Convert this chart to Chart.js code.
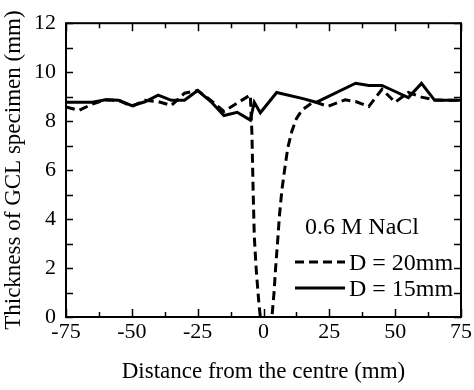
<!DOCTYPE html>
<html>
<head>
<meta charset="utf-8">
<script src="https://cdn.jsdelivr.net/npm/chart.js@4/dist/chart.umd.min.js"></script>
<style>
html,body{margin:0;padding:0;background:#fff;}
#wrap{width:474px;height:390px;position:relative;}
</style>
</head>
<body>
<div id="wrap"><canvas id="c" width="474" height="390"></canvas></div>
<script>
const xTicks = [-75, -50, -25, 0, 25, 50, 75];
const yTicks = [0, 2, 4, 6, 8, 10, 12];

const d20X = [-75,-70,-65,-60,-55,-50,-45,-40,-35,-30,-25,-20,-15,-5,-4.4,-3.9,-3.5,-2.8,-2.3,-1.7,-1.2,-0.6,2.6,3.2,4.0,4.6,5.3,6.1,7.0,8.0,9.2,10.8,12.5,14.6,19.1,24.5,31,35,40,45,50,55,60,65,70,75];
const d20Y = [8.58,8.44,8.7,8.87,8.85,8.6,8.85,8.8,8.64,9.14,9.25,8.85,8.4,9.07,7.5,5.0,3.3,2.0,1.3,0.5,0,-1,-1,0,1.0,2.0,3.0,4.2,5.2,6.0,6.9,7.6,8.1,8.45,8.8,8.6,8.87,8.8,8.6,9.3,8.77,9.17,8.98,8.87,8.85,8.85];

const d15X = [-75,-65,-60,-55,-50,-45,-40,-35,-30,-25,-20,-15,-10,-5,-3.5,-1.2,5,15,20,35,40,45,50,55,60,65,70,75];
const d15Y = [8.77,8.77,8.87,8.85,8.63,8.79,9.06,8.85,8.85,9.25,8.8,8.23,8.36,8.04,8.77,8.34,9.17,8.92,8.77,9.55,9.46,9.46,9.21,8.96,9.54,8.85,8.85,8.85];

const annotationText = "0.6 M NaCl";
const seriesNames = ["D = 20mm", "D = 15mm"];

const FONT = "'Liberation Serif', 'Times New Roman', serif";

function pts(xs, ys){ return xs.map((x,i)=>({x:x, y:ys[i]})); }

const frame = {
  id: 'frame',
  afterDraw(chart){
    const ctx = chart.ctx, a = chart.chartArea;
    const xs = chart.scales.x, ys = chart.scales.y;
    ctx.save();
    ctx.strokeStyle = '#000';
    ctx.lineWidth = 2;
    ctx.strokeRect(a.left, a.top, a.right - a.left, a.bottom - a.top);
    ctx.lineWidth = 1.5;
    ctx.beginPath();
    for (let v = -75; v <= 75.01; v += 12.5) {
      const px = Math.round(xs.getPixelForValue(v)) + 0.5;
      const len = (Math.abs(v % 25) < 0.01) ? 8 : 5;
      ctx.moveTo(px, a.bottom); ctx.lineTo(px, a.bottom - len);
      ctx.moveTo(px, a.top); ctx.lineTo(px, a.top + len);
    }
    for (let v = 0; v <= 12; v += 1) {
      const py = Math.round(ys.getPixelForValue(v)) + 0.5;
      ctx.moveTo(a.left, py); ctx.lineTo(a.left + 7, py);
      ctx.moveTo(a.right, py); ctx.lineTo(a.right - 7, py);
    }
    ctx.stroke();

    // annotation + legend
    ctx.fillStyle = '#000';
    ctx.font = "24px " + FONT;
    ctx.textBaseline = 'middle';
    ctx.textAlign = 'left';
    ctx.fillText(annotationText, 305, 228);
    ctx.lineWidth = 3;
    ctx.setLineDash([9, 5]);
    ctx.beginPath(); ctx.moveTo(295, 262); ctx.lineTo(345, 262); ctx.stroke();
    ctx.setLineDash([]);
    ctx.beginPath(); ctx.moveTo(295, 288); ctx.lineTo(345, 288); ctx.stroke();
    ctx.fillText(seriesNames[0], 349, 264);
    ctx.fillText(seriesNames[1], 349, 290);
    ctx.restore();
  }
};

new Chart(document.getElementById('c'), {
  type: 'line',
  data: {
    datasets: [
      { label: seriesNames[0], data: pts(d20X, d20Y), borderColor: '#000', borderWidth: 3, borderDash: [9, 5], pointRadius: 0, tension: 0, fill: false },
      { label: seriesNames[1], data: pts(d15X, d15Y), borderColor: '#000', borderWidth: 3, pointRadius: 0, tension: 0, fill: false }
    ]
  },
  options: {
    responsive: false,
    animation: false,
    devicePixelRatio: 1,
    layout: { padding: { top: 19, right: 11, left: 0, bottom: 0 } },
    plugins: { legend: { display: false }, tooltip: { enabled: false } },
    scales: {
      x: {
        type: 'linear', min: -75, max: 75,
        afterBuildTicks(s){ s.ticks = xTicks.map(v => ({value: v})); },
        afterFit(s){ s.height = 73; },
        grid: { display: false, drawTicks: false },
        border: { display: false },
        ticks: { color: '#000', font: { family: FONT, size: 22 }, padding: 2, maxRotation: 0, autoSkip: false },
        title: { display: true, text: 'Distance from the centre (mm)', color: '#000', font: { family: FONT, size: 23 }, padding: { top: 0, bottom: 4 } }
      },
      y: {
        type: 'linear', min: 0, max: 12,
        afterBuildTicks(s){ s.ticks = yTicks.map(v => ({value: v})); },
        afterFit(s){ s.width = 66; },
        grid: { display: false, drawTicks: false },
        border: { display: false },
        ticks: { color: '#000', font: { family: FONT, size: 22 }, padding: 10 },
        title: { display: true, text: 'Thickness of GCL specimen (mm)', color: '#000', font: { family: FONT, size: 23 }, padding: { top: 0, bottom: 0 } }
      }
    }
  },
  plugins: [frame]
});
</script>
</body>
</html>
